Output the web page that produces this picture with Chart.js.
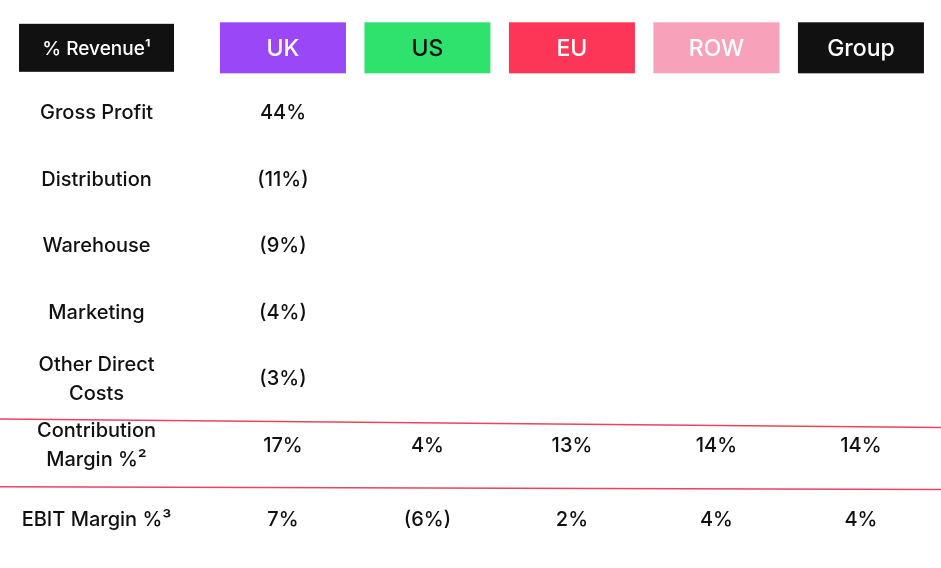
<!DOCTYPE html>
<html><head><meta charset="utf-8">
<script src="https://cdn.jsdelivr.net/npm/chart.js@4"></script>
<style>html,body{margin:0;padding:0;background:#fff}#w{width:941px;height:568px}</style>
</head><body><div id="w"><canvas id="c"></canvas></div>
<script>
const headers = ['% Revenue¹','UK','US','EU','ROW','Group'];
const headerColors = ['#111111','#9a47f7','#2fe26e','#fd3557','#f7a1bb','#111111'];
const headerText = ['#ffffff','#ffffff','#111111','#ffffff','#ffffff','#ffffff'];
const rowLabels = [['Gross Profit'],['Distribution'],['Warehouse'],['Marketing'],['Other Direct','Costs'],['Contribution','Margin %²'],['EBIT Margin %³']];
const ukValues = ['44%','(11%)','(9%)','(4%)','(3%)','17%','7%'];
const usValues = ['','','','','','4%','(6%)'];
const euValues = ['','','','','','13%','2%'];
const rowValues = ['','','','','','14%','4%'];
const groupValues = ['','','','','','14%','4%'];
const colPos = [-0.29,1,2,3,4,5];
const rowPos = [0,1,2,3,4,5,6.12];
const headerPos = -0.98;
const dividers = [[4.6,4.73],[5.62,5.66]];

const cols = [ukValues,usValues,euValues,rowValues,groupValues];
const tablePlugin = {
  id:'table',
  afterDraw(ch){
    const c=ch.ctx, x=ch.scales.x, y=ch.scales.y;
    c.save();
    c.textAlign='center'; c.textBaseline='middle';
    // headers
    headers.forEach((h,i)=>{
      const cx=x.getPixelForValue(colPos[i]), cy=y.getPixelForValue(headerPos);
      const w=i===0?155:126, hh=i===0?48:51;
      c.fillStyle=headerColors[i];
      c.fillRect(cx-w/2,cy-hh/2,w,hh);
      c.fillStyle=headerText[i];
      c.font=(i===0?'500 19px':'500 23px')+' Inter, "Noto Sans", sans-serif';
      c.fillText(h,cx,cy+1);
    });
    // dividers
    c.strokeStyle='#e8455f'; c.lineWidth=1.5;
    dividers.forEach(d=>{
      c.beginPath();
      c.moveTo(x.getPixelForValue(x.min),y.getPixelForValue(d[0]));
      c.lineTo(x.getPixelForValue(x.max),y.getPixelForValue(d[1]));
      c.stroke();
    });
    // rows
    c.fillStyle='#111';
    c.font='500 20px Inter, "Noto Sans", sans-serif';
    rowLabels.forEach((lab,r)=>{
      const cy=y.getPixelForValue(rowPos[r]);
      const cx=x.getPixelForValue(colPos[0]);
      lab.forEach((t,k)=>c.fillText(t,cx,cy+(k-(lab.length-1)/2)*29));
      cols.forEach((vals,j)=>{
        if(vals[r]) c.fillText(vals[r],x.getPixelForValue(colPos[j+1]),cy);
      });
    });
    c.restore();
  }
};
new Chart(document.getElementById('c'),{
  type:'scatter',
  data:{datasets:[{data:[],pointRadius:0}]},
  options:{
    responsive:true,maintainAspectRatio:false,animation:false,
    layout:{padding:0},
    plugins:{legend:{display:false},tooltip:{enabled:false}},
    scales:{
      x:{type:'linear',min:-0.958,max:5.554,display:false},
      y:{type:'linear',min:-1.699,max:6.842,reverse:true,display:false}
    }
  },
  plugins:[tablePlugin]
});
</script></body></html>
